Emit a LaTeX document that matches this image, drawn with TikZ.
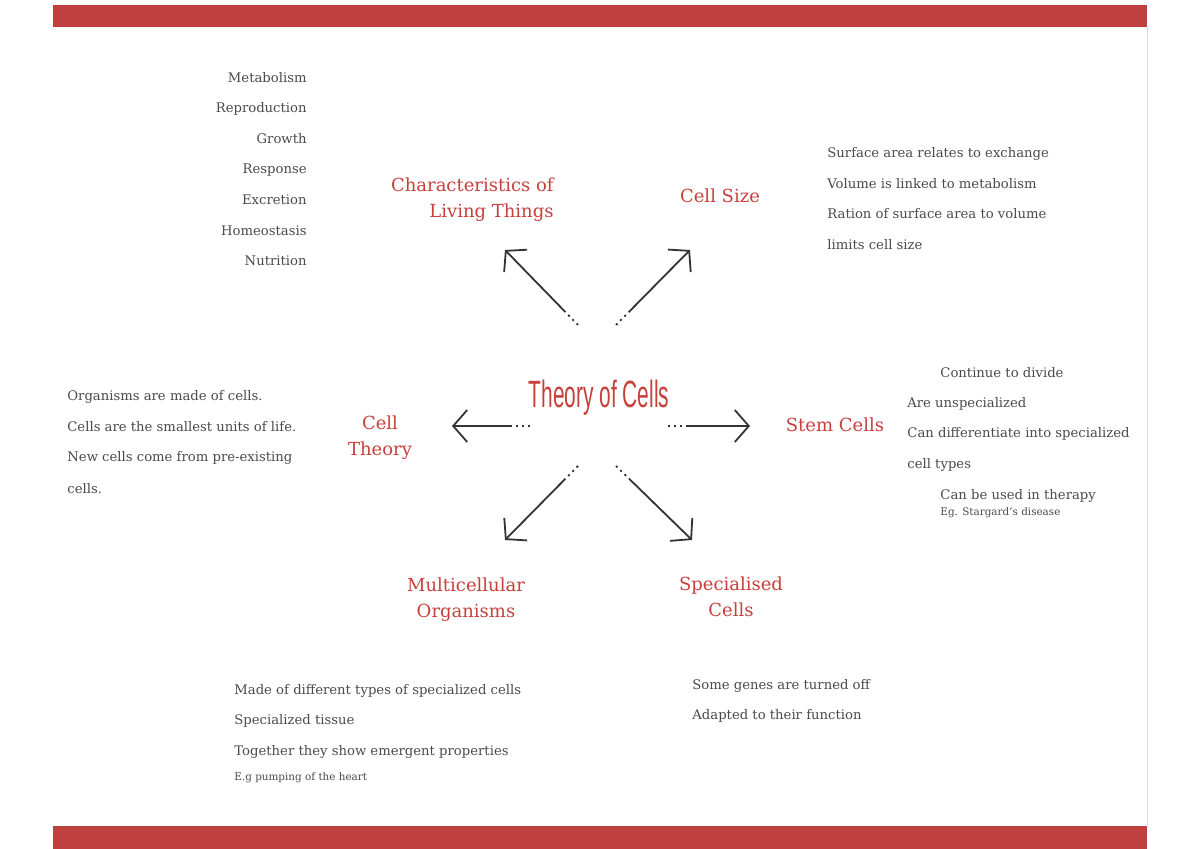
\documentclass[tikz,border=0pt]{standalone}
\usepackage{fontspec}
\setmainfont{DejaVu Serif}
\newfontfamily\handfont{Liberation Sans}
\usetikzlibrary{arrows.meta}
\definecolor{barred}{HTML}{C0403F}
\definecolor{titred}{HTML}{C8403C}
\definecolor{txtgray}{HTML}{4A4A4A}
\begin{document}
\begin{tikzpicture}[x=0.5pt,y=-0.5pt,
  item/.style={font=\fontsize{6.6}{8}\selectfont,text=txtgray,inner sep=0pt},
  small/.style={font=\fontsize{5.2}{6}\selectfont,text=txtgray,inner sep=0pt},
  topic/.style={font=\fontsize{9}{13}\selectfont,text=titred,align=center,inner sep=0pt},
  arr/.style={draw=black!80,line width=0.9pt,dash pattern=on 1pt off 2pt on 1pt off 2pt on 1pt off 2pt on 60pt off 0pt,
    -{Straight Barb[length=7pt,width=16pt,line width=0.9pt]}}]
\useasboundingbox (0,0) rectangle (1200,849);
\fill[white] (0,0) rectangle (1200,849);
\fill[barred] (53,5) rectangle (1147,27);
\fill[barred] (53,826) rectangle (1147,849);
\draw[black!15] (1147,27) -- (1147,826);
% centre
\node[text=titred,font=\handfont\fontsize{19}{20}\selectfont,xscale=0.55] (center) at (599,398) {Theory of Cells};
% arrow coordinates
\coordinate (nws) at (578,325); \coordinate (nwe) at (505,250);
\coordinate (nes) at (616,325); \coordinate (nee) at (690,250);
\coordinate (ws) at (530,426); \coordinate (we) at (452,426);
\coordinate (es) at (668,426); \coordinate (ee) at (750,426);
\coordinate (sws) at (578,466); \coordinate (swe) at (505,540);
\coordinate (ses) at (616,466); \coordinate (see) at (692,540);
\foreach \a/\b in {nws/nwe,nes/nee,ws/we,es/ee,sws/swe,ses/see}{
  \draw[arr] (\a) -- (\b);
}
% topics
\node[topic,align=right,anchor=east] (char) at (554,200) {Characteristics of\\Living Things};
\node[topic] (size) at (720,196) {Cell Size};
\node[topic] (theory) at (380,438) {Cell\\Theory};
\node[topic] (stem) at (835,425) {Stem Cells};
\node[topic] (multi) at (466,600) {Multicellular\\Organisms};
\node[topic] (spec) at (731,597) {Specialised\\Cells};
% lists
\node[item,anchor=east] (l1) at (307,78) {Metabolism};
\node[item,anchor=east] (l2) at (307,109) {Reproduction};
\node[item,anchor=east] (l3) at (307,139) {Growth};
\node[item,anchor=east] (l4) at (307,170) {Response};
\node[item,anchor=east] (l5) at (307,200) {Excretion};
\node[item,anchor=east] (l6) at (307,231) {Homeostasis};
\node[item,anchor=east] (l7) at (307,261) {Nutrition};
\node[item,anchor=west] (s1) at (827,154) {Surface area relates to exchange};
\node[item,anchor=west] (s2) at (827,184) {Volume is linked to metabolism};
\node[item,anchor=west] (s3) at (827,214) {Ration of surface area to volume};
\node[item,anchor=west] (s4) at (827,245) {limits cell size};
\node[item,anchor=west] (t1) at (67,397) {Organisms are made of cells.};
\node[item,anchor=west] (t2) at (67,427) {Cells are the smallest units of life.};
\node[item,anchor=west] (t3) at (67,458) {New cells come from pre-existing};
\node[item,anchor=west] (t4) at (67,489) {cells.};
\node[item,anchor=west] (c1) at (940,373) {Continue to divide};
\node[item,anchor=west] (c2) at (907,404) {Are unspecialized};
\node[item,anchor=west] (c3) at (907,434) {Can differentiate into specialized};
\node[item,anchor=west] (c4) at (907,465) {cell types};
\node[item,anchor=west] (c5) at (940,496) {Can be used in therapy};
\node[small,anchor=west] (c6) at (940,513) {Eg. Stargard's disease};
\node[item,anchor=west] (m1) at (234,691) {Made of different types of specialized cells};
\node[item,anchor=west] (m2) at (234,721) {Specialized tissue};
\node[item,anchor=west] (m3) at (234,752) {Together they show emergent properties};
\node[small,anchor=west] (m4) at (234,778) {E.g pumping of the heart};
\node[item,anchor=west] (p1) at (692,686) {Some genes are turned off};
\node[item,anchor=west] (p2) at (692,716) {Adapted to their function};
\end{tikzpicture}
\end{document}
